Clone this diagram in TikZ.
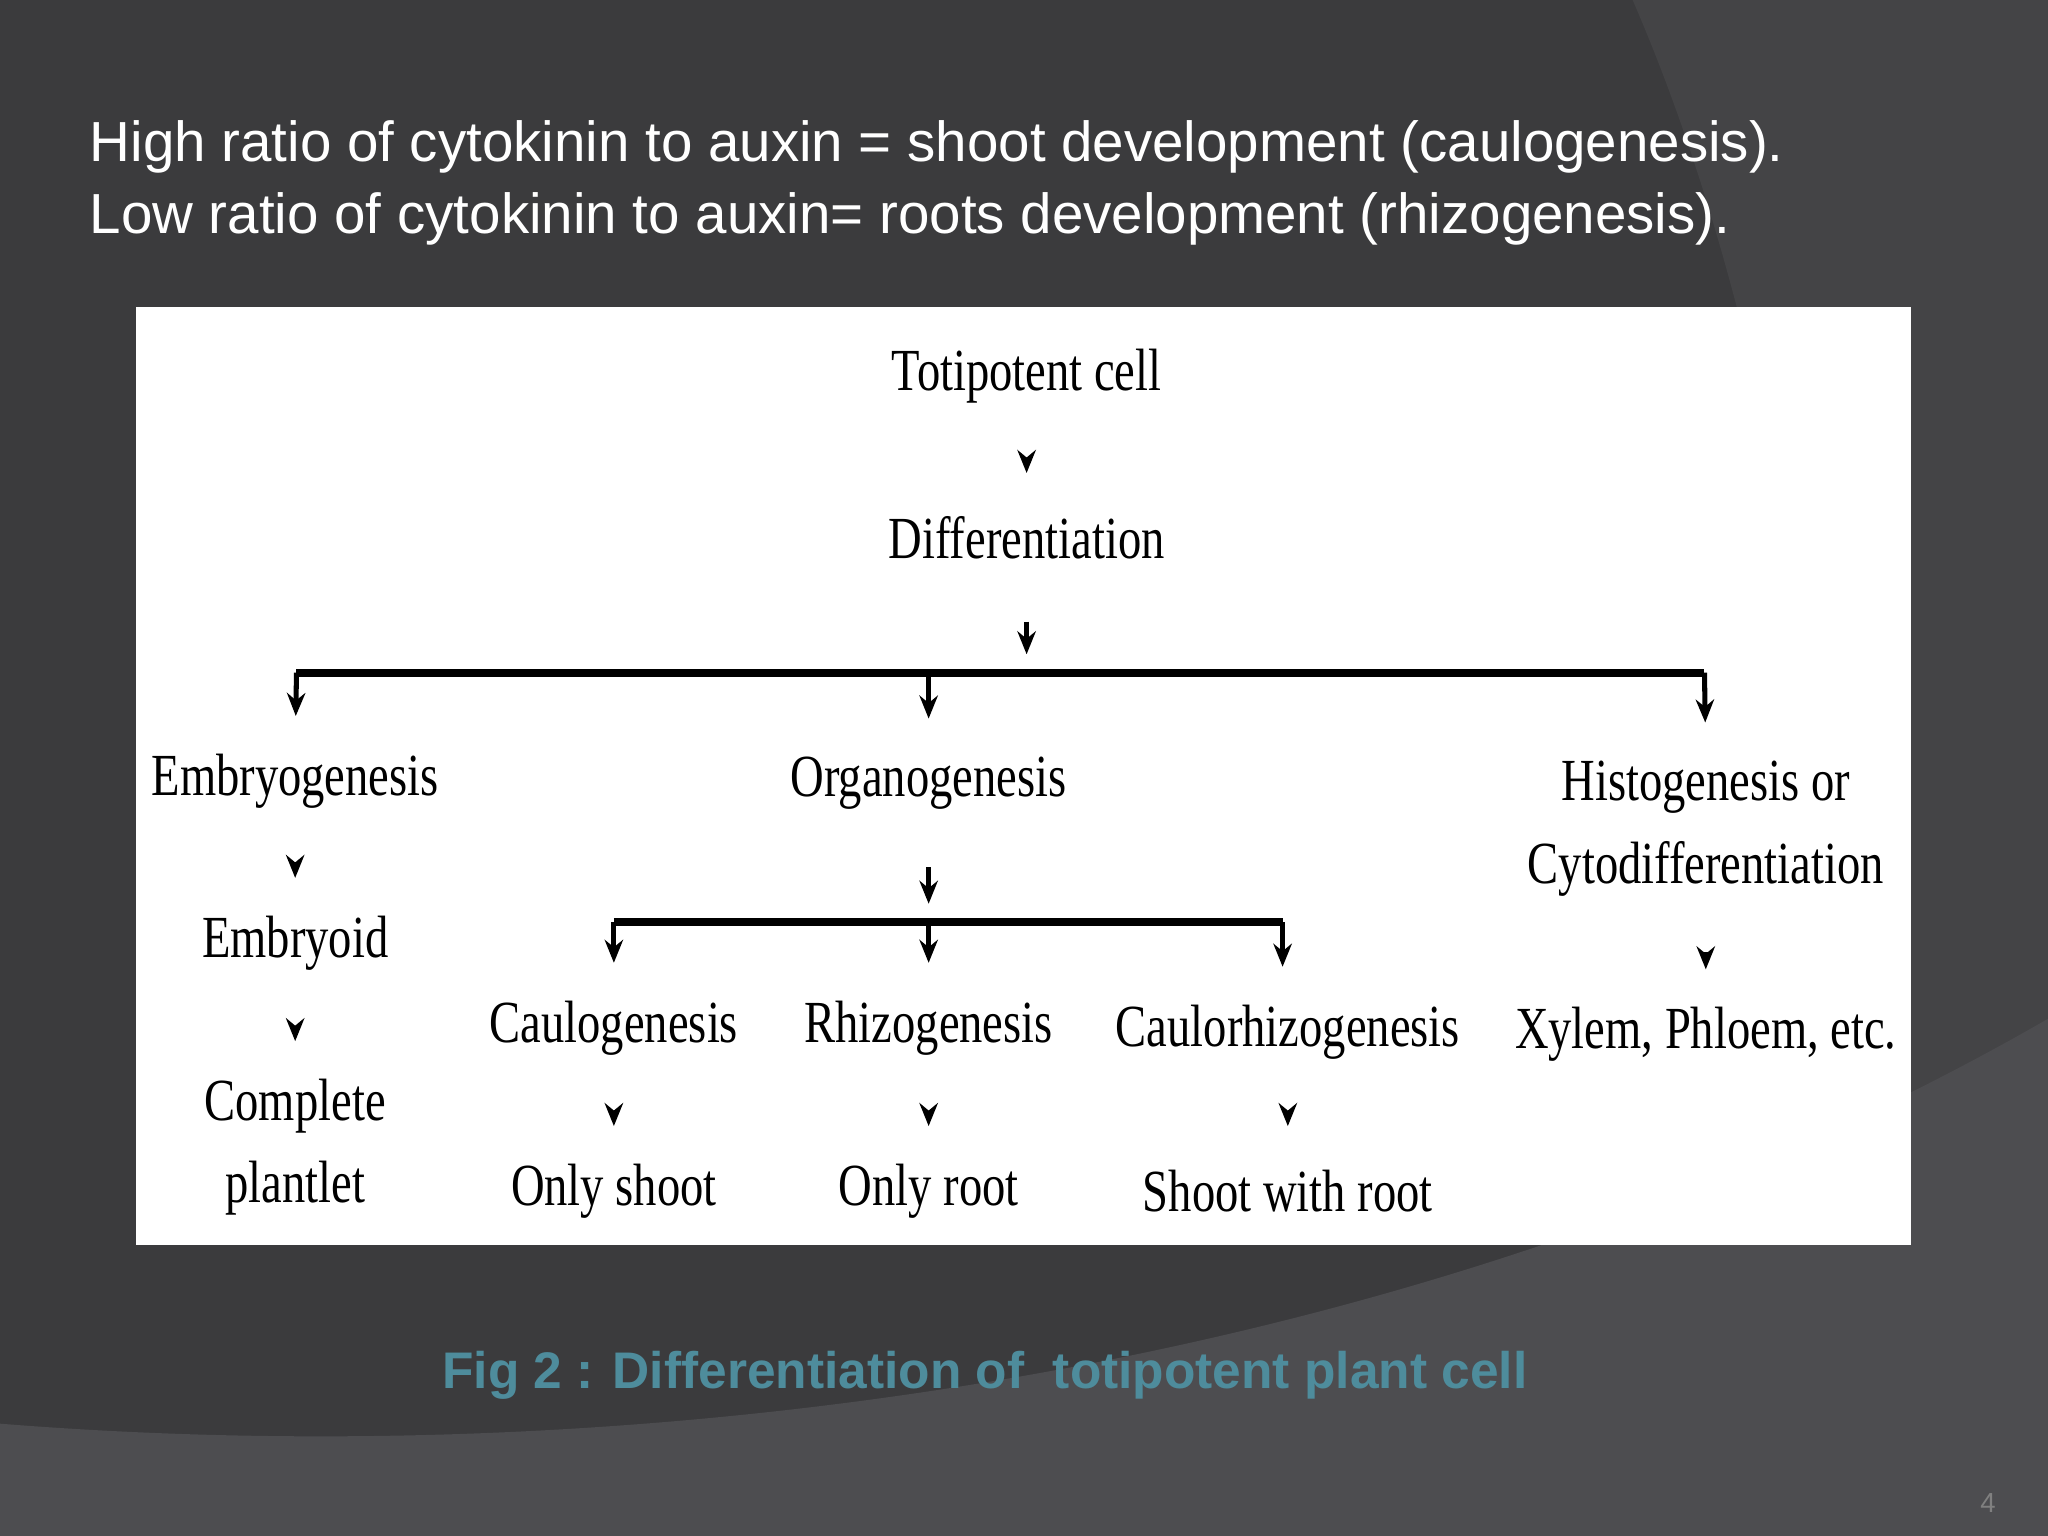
\documentclass[tikz,border=0pt]{standalone}
\usepackage{fontspec}
\setmainfont{Liberation Serif}
\setsansfont{Liberation Sans}
\usetikzlibrary{arrows.meta}
\definecolor{bgA}{HTML}{3B3B3D}
\definecolor{bgB}{HTML}{444446}
\definecolor{bgC}{HTML}{4D4D50}
\definecolor{capc}{HTML}{4E8C9C}
\tikzset{
 lbl/.style={inner sep=0pt,minimum height=0.42cm,font=\fontsize{13}{13}\selectfont},
 arr/.style={line width=1.1pt,-{Stealth[length=5pt,width=4pt]}},
 barl/.style={line width=1.8pt},
}
\newcommand{\cx}[1]{\scalebox{0.78}[1]{#1}}
\begin{document}
\begin{tikzpicture}[x=0.01cm,y=-0.01cm]
\useasboundingbox (0,0) rectangle (1568,1176);
\fill[bgA] (0,0) rectangle (1568,1176);
\fill[bgB] (1250,0) -- (1568,0) -- (1568,1176) -- (1450,1176) .. controls (1420,700) and (1380,300) .. (1250,0) -- cycle;
\fill[bgC] (0,1090) .. controls (500,1130) and (1100,1050) .. (1568,780) -- (1568,1176) -- (0,1176) -- cycle;
\node[anchor=west,inner sep=0pt,white,font=\sffamily\fontsize{12.3}{15.5}\selectfont,align=left] (title) at (68,140)
 {High ratio of cytokinin to auxin = shoot development (caulogenesis).\\Low ratio of cytokinin to auxin= roots development (rhizogenesis).};
\fill[white] (104,235) rectangle (1463,953);

\node[lbl] (tot) at (786,288) {\cx{Totipotent cell}};
\node[lbl] (dif) at (786,412) {\cx{Differentiation}};
\node[lbl] (emb) at (226,598) {\cx{Embryogenesis}};
\node[lbl] (org) at (711,600) {\cx{Organogenesis}};
\node[lbl] (his) at (1306,603) {\cx{Histogenesis or}};
\node[lbl] (cyt) at (1306,665) {\cx{Cytodifferentiation}};
\node[lbl] (eid) at (226,722) {\cx{Embryoid}};
\node[lbl] (com) at (226,847) {\cx{Complete}};
\node[lbl] (pla) at (226,910) {\cx{plantlet}};
\node[lbl] (cau) at (470,787) {\cx{Caulogenesis}};
\node[lbl] (rhi) at (711,787) {\cx{Rhizogenesis}};
\node[lbl] (crh) at (986,790) {\cx{Caulorhizogenesis}};
\node[lbl] (xyl) at (1306,792) {\cx{Xylem, Phloem, etc.}};
\node[lbl] (osh) at (470,912) {\cx{Only shoot}};
\node[lbl] (oro) at (711,912) {\cx{Only root}};
\node[lbl] (swr) at (986,912) {\cx{Shoot with root}};

\coordinate (b1) at (227,515); \coordinate (b2) at (1305,515);
\coordinate (c1) at (470,706); \coordinate (c2) at (982,706);

\tikzset{sh/.style={shorten <=12pt,shorten >=8pt}}
\draw[arr,sh] (tot.south) -- (dif.north);
\draw[arr,shorten <=12pt] (dif.south) -- ([yshift=4pt]dif.south |- b1);
\draw[barl] (b1) -- (b2);
\draw[arr,shorten >=8pt] (b1) -- (emb.north);
\draw[arr,shorten >=8pt] (org.north |- b1) -- (org.north);
\draw[arr,shorten >=8pt] (b2) -- (his.north);
\draw[arr,sh] (emb.south) -- (eid.north);
\draw[arr,sh] (eid.south) -- (com.north);
\draw[arr,shorten <=12pt] (org.south) -- ([yshift=4pt]org.south |- c1);
\draw[barl] (c1) -- (c2);
\draw[arr,shorten >=8pt] (c1) -- (cau.north);
\draw[arr,shorten >=8pt] (rhi.north |- c1) -- (rhi.north);
\draw[arr,shorten >=8pt] (c2) -- (c2 |- crh.north);
\draw[arr,sh] (cyt.south) -- (xyl.north);
\draw[arr,sh] (cau.south) -- (osh.north);
\draw[arr,sh] (rhi.south) -- (oro.north);
\draw[arr,sh] (crh.south) -- (swr.north);

\node[capc,font=\sffamily\bfseries\fontsize{11.2}{12}\selectfont] (cap) at (754,1053) {Fig 2 : Differentiation of \ totipotent plant cell};
\node[gray,font=\sffamily\fontsize{6}{6}\selectfont] (pg) at (1522,1151) {4};
\end{tikzpicture}
\end{document}
